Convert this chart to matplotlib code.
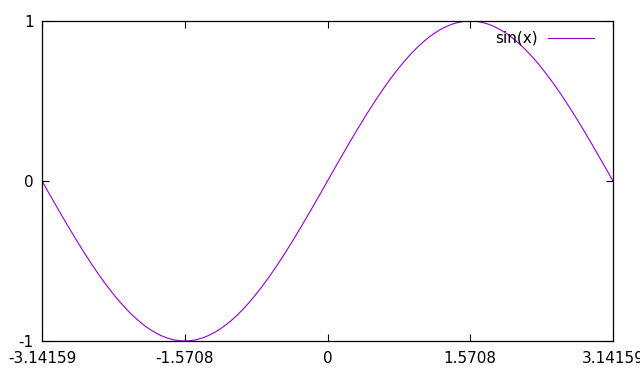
import matplotlib
matplotlib.use('Agg')
import matplotlib.pyplot as plt

# sample points
xs = [-3.1416, -3.0761, -3.0107, -2.9452, -2.8798, -2.8143, -2.7489, -2.6834,
      -2.6180, -2.5525, -2.4871, -2.4216, -2.3562, -2.2907, -2.2253, -2.1598,
      -2.0944, -2.0289, -1.9635, -1.8980, -1.8326, -1.7671, -1.7017, -1.6362,
      -1.5708, -1.5053, -1.4399, -1.3744, -1.3090, -1.2435, -1.1781, -1.1126,
      -1.0472, -0.9817, -0.9163, -0.8508, -0.7854, -0.7199, -0.6545, -0.5890,
      -0.5236, -0.4581, -0.3927, -0.3272, -0.2618, -0.1963, -0.1309, -0.0654,
      0.0, 0.0654, 0.1309, 0.1963, 0.2618, 0.3272, 0.3927, 0.4581,
      0.5236, 0.5890, 0.6545, 0.7199, 0.7854, 0.8508, 0.9163, 0.9817,
      1.0472, 1.1126, 1.1781, 1.2435, 1.3090, 1.3744, 1.4399, 1.5053,
      1.5708, 1.6362, 1.7017, 1.7671, 1.8326, 1.8980, 1.9635, 2.0289,
      2.0944, 2.1598, 2.2253, 2.2907, 2.3562, 2.4216, 2.4871, 2.5525,
      2.6180, 2.6834, 2.7489, 2.8143, 2.8798, 2.9452, 3.0107, 3.0761, 3.1416]
ys = [0.0, -0.0654, -0.1305, -0.1951, -0.2588, -0.3214, -0.3827, -0.4423,
      -0.5, -0.5556, -0.6088, -0.6593, -0.7071, -0.7518, -0.7934, -0.8315,
      -0.8660, -0.8969, -0.9239, -0.9469, -0.9659, -0.9808, -0.9914, -0.9979,
      -1.0, -0.9979, -0.9914, -0.9808, -0.9659, -0.9469, -0.9239, -0.8969,
      -0.8660, -0.8315, -0.7934, -0.7518, -0.7071, -0.6593, -0.6088, -0.5556,
      -0.5, -0.4423, -0.3827, -0.3214, -0.2588, -0.1951, -0.1305, -0.0654,
      0.0, 0.0654, 0.1305, 0.1951, 0.2588, 0.3214, 0.3827, 0.4423,
      0.5, 0.5556, 0.6088, 0.6593, 0.7071, 0.7518, 0.7934, 0.8315,
      0.8660, 0.8969, 0.9239, 0.9469, 0.9659, 0.9808, 0.9914, 0.9979,
      1.0, 0.9979, 0.9914, 0.9808, 0.9659, 0.9469, 0.9239, 0.8969,
      0.8660, 0.8315, 0.7934, 0.7518, 0.7071, 0.6593, 0.6088, 0.5556,
      0.5, 0.4423, 0.3827, 0.3214, 0.2588, 0.1951, 0.1305, 0.0654, 0.0]

xticks = [-3.14159, -1.5708, 0, 1.5708, 3.14159]
xticklabels = ['-3.14159', '-1.5708', '0', '1.5708', '3.14159']
yticks = [-1, 0, 1]
yticklabels = ['-1', '0', '1']

fig = plt.figure(figsize=(6.4, 3.84), dpi=100)
ax = fig.add_axes([42 / 640, 1 - 341 / 384, 571 / 640, 320 / 384])
ax.plot(xs, ys, color='#9400d3', linewidth=0.8, label='sin(x)')
ax.set_xlim(-3.14159, 3.14159)
ax.set_ylim(-1, 1)
ax.set_xticks(xticks)
ax.set_xticklabels(xticklabels)
ax.set_yticks(yticks)
ax.set_yticklabels(yticklabels)
ax.tick_params(direction='in', length=5, width=0.8, top=True, right=True,
               labelsize=11, colors='black')
ax.tick_params(axis='x', pad=7)
ax.tick_params(axis='y', pad=6)
for s in ax.spines.values():
    s.set_linewidth(0.9)
ax.legend(loc='upper right', frameon=False, markerfirst=False, handlelength=3.0,
          handletextpad=0.7, fontsize=11, bbox_to_anchor=(0.978, 0.988),
          borderaxespad=0)

fig.savefig('out.png', dpi=100)
